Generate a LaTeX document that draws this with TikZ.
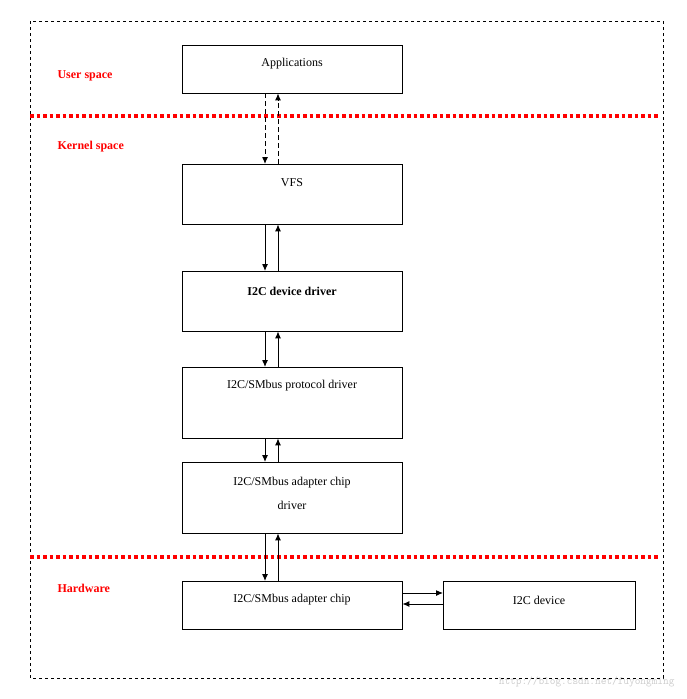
\documentclass[tikz,border=0pt]{standalone}
\usepackage{fontspec}
\setmainfont{Liberation Serif}
\usetikzlibrary{arrows.meta}
\begin{document}
\begin{tikzpicture}[x=1pt,y=-1pt,
  box/.style={draw,thin,anchor=north west,inner sep=0pt},
  lbl/.style={font=\fontsize{12}{14}\selectfont,align=center},
  redlbl/.style={text=red,font=\fontsize{12}{14}\selectfont\bfseries,anchor=west},
  sep/.style={draw=red,line width=3.5pt,dash pattern=on 3.5pt off 3pt},
  arr/.style={-{Latex[length=7pt,width=6pt]},line width=1pt}]
\useasboundingbox (0,0) rectangle (687,699);
\draw[dashed] (30,21) rectangle (663,678);
\coordinate (s1a) at (30,116); \coordinate (s1b) at (660,116);
\coordinate (s2a) at (30,557); \coordinate (s2b) at (660,557);
\draw[sep] (s1a) -- (s1b);
\draw[sep] (s2a) -- (s2b);
\node[redlbl] (us) at (54,76) {User space};
\node[redlbl] (ks) at (54,147) {Kernel space};
\node[redlbl] (hw) at (54,588) {Hardware};
\node[box,minimum width=220pt,minimum height=48pt] (app) at (182,45) {};
\node[lbl] at (292,64) {Applications};
\node[box,minimum width=220pt,minimum height=60pt] (vfs) at (182,164) {};
\node[lbl] at (292,183) {VFS};
\node[box,minimum width=220pt,minimum height=60pt] (dev) at (182,271) {};
\node[lbl,font=\fontsize{12}{14}\selectfont\bfseries] at (292,291) {I2C device driver};
\node[box,minimum width=220pt,minimum height=71pt] (pro) at (182,367) {};
\node[lbl] at (292,386) {I2C/SMbus protocol driver};
\node[box,minimum width=220pt,minimum height=71pt] (adr) at (182,462) {};
\node[lbl,font=\fontsize{12}{24}\selectfont] at (292,493) {I2C/SMbus adapter chip\\driver};
\node[box,minimum width=220pt,minimum height=48pt] (chip) at (182,581) {};
\node[lbl] at (292,600) {I2C/SMbus adapter chip};
\node[box,minimum width=192pt,minimum height=48pt] (i2c) at (443,581) {};
\node[lbl] at (539,600) {I2C device};
\draw[arr,dash pattern=on 5pt off 3pt] ([xshift=83pt]app.south west) -- ([xshift=83pt]vfs.north west);
\draw[arr,dash pattern=on 5pt off 3pt] ([xshift=96pt]vfs.north west) -- ([xshift=96pt]app.south west);
\foreach \a/\b in {vfs/dev,dev/pro,pro/adr,adr/chip}{
\draw[arr] ([xshift=83pt]\a.south west) -- ([xshift=83pt]\b.north west);
\draw[arr] ([xshift=96pt]\b.north west) -- ([xshift=96pt]\a.south west);
}
\draw[arr] ([yshift=-12pt]chip.north east) -- ([yshift=-12pt]i2c.north west);
\draw[arr] ([yshift=-23pt]i2c.north west) -- ([yshift=-23pt]chip.north east);
\node[text=black!20,font=\fontsize{11}{13}\selectfont\ttfamily,anchor=east] (wm) at (678,682) {http://blog.csdn.net/fuyongming};
\end{tikzpicture}
\end{document}
